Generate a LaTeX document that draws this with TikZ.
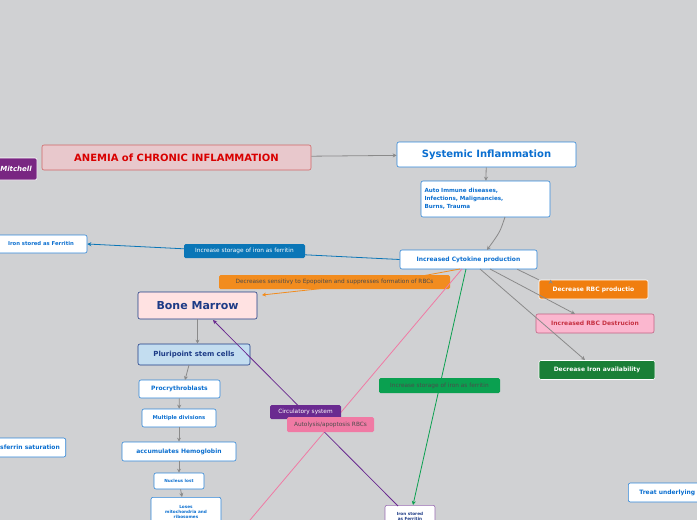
\documentclass[tikz,border=0pt]{standalone}
\usepackage{fontspec}
\setmainfont{DejaVu Sans}
\usetikzlibrary{arrows.meta}
\definecolor{bg}{HTML}{D0D1D3}
\definecolor{tblue}{HTML}{0B6FD0}
\definecolor{bblue}{HTML}{2F86D8}
\definecolor{gline}{HTML}{8A8A8A}
\definecolor{labblue}{HTML}{0A76B7}
\definecolor{orng}{HTML}{F28C1E}
\definecolor{orng2}{HTML}{F07E0F}
\definecolor{pk}{HTML}{F07AA4}
\definecolor{pkfill}{HTML}{FBB7CF}
\definecolor{grn}{HTML}{0AA050}
\definecolor{dgrn}{HTML}{1A7F37}
\definecolor{purp}{HTML}{6A2A90}
\definecolor{navy}{HTML}{1D3B86}
\definecolor{lblue}{HTML}{C3DDF0}
\definecolor{tfill}{HTML}{E8C8CC}
\tikzset{
  box/.style={draw=bblue,fill=white,rounded corners=2pt,text=tblue,font=\bfseries\fontsize{6}{7}\selectfont,inner sep=0pt,line width=0.6pt},
  lab/.style={rounded corners=1.5pt,inner sep=0pt,font=\fontsize{5.8}{6.5}\selectfont},
  con/.style={draw=gline,line width=0.8pt,-{Stealth[length=4pt,width=4pt]}},
}
\begin{document}
\begin{tikzpicture}[x=1pt,y=-1pt]
\fill[bg] (0,0) rectangle (697,520);
\clip (0,0) rectangle (697,520);
\useasboundingbox (0,0) rectangle (697,520);
% nodes
\node[box,draw=white,fill=purp!90!red,text=white,font=\bfseries\itshape\fontsize{7}{8}\selectfont,minimum width=42pt,minimum height=22pt,anchor=center] (mit) at (16,169) {Mitchell};
\node[box,draw=red!70!black!60,fill=tfill,text=red!85!black,font=\bfseries\fontsize{10}{12}\selectfont,minimum width=269pt,minimum height=25pt] (title) at (176.5,157.5) {ANEMIA of CHRONIC INFLAMMATION};
\node[box,font=\bfseries\fontsize{10}{12}\selectfont,minimum width=179pt,minimum height=25pt] (sys) at (486.5,154.5) {Systemic Inflammation};
\node[box,minimum width=129pt,minimum height=36pt,align=left,text width=122pt,font=\bfseries\fontsize{5.6}{8}\selectfont] (auto) at (485.5,199) {Auto Immune diseases,\\Infections, Malignancies,\\Burns, Trauma};
\node[box,minimum width=137pt,minimum height=19pt] (cyt) at (468.5,259.5) {Increased Cytokine production};
\node[box,draw=white,fill=orng2,text=white,minimum width=109pt,minimum height=19pt] (drp) at (593.5,289.5) {Decrease RBC productio};
\node[box,draw=pk!80!black,fill=pkfill,text=pk!50!red!80!black,minimum width=118pt,minimum height=19pt] (ird) at (595,323.5) {Increased RBC Destrucion};
\node[box,draw=white,fill=dgrn,text=white,minimum width=116pt,minimum height=19pt] (dia) at (597,370) {Decrease Iron availability};
\node[box,minimum width=92pt,minimum height=18pt,font=\bfseries\fontsize{5.3}{6}\selectfont] (isf) at (41,244) {Iron stored as Ferritin};
\node[box,draw=navy,fill=pink!45!white,text=navy,font=\bfseries\fontsize{11}{13}\selectfont,minimum width=119pt,minimum height=27pt] (bm) at (197.5,305.5) {Bone Marrow};
\node[box,draw=navy,fill=lblue,text=navy,font=\bfseries\fontsize{7}{8}\selectfont,minimum width=112pt,minimum height=21pt] (plu) at (194,354.5) {Pluripoint stem cells};
\node[box,minimum width=81pt,minimum height=18pt] (pro) at (179.5,389) {Procrythroblasts};
\node[box,minimum width=74pt,minimum height=18pt,font=\bfseries\fontsize{5.3}{6}\selectfont] (mul) at (179,418) {Multiple divisions};
\node[box,minimum width=114pt,minimum height=19pt] (acc) at (179,451.5) {accumulates Hemoglobin};
\node[box,minimum width=50pt,minimum height=16pt,font=\bfseries\fontsize{4.2}{5}\selectfont] (nuc) at (179,481) {Nucleus lost};
\node[box,minimum width=70pt,minimum height=30pt,font=\bfseries\fontsize{4.2}{5}\selectfont,align=center,anchor=north] (los) at (186,497) {Loses\\mitochondria and\\ribosomes};
\node[box,minimum width=90pt,minimum height=19pt,anchor=east] (trs) at (66,447.5) {\hspace*{4pt}Transferrin saturation};
\node[box,draw=purp!70,minimum width=50pt,minimum height=22pt,font=\bfseries\fontsize{4.2}{5}\selectfont,text=navy,align=center,anchor=north] (isf2) at (410,505) {Iron stored\\as Ferritin};
\node[box,minimum width=78pt,minimum height=19pt,anchor=west] (tu) at (628,492.5) {Treat underlying};
% connectors
\draw[con] (title) -- (sys);
\draw[con] (sys) -- (auto);
\draw[con] (505,217) .. controls (500,232) .. (487,250);
\draw[con] (cyt.south east)++(-20,0) -- (drp.north west)++(12,0);
\draw[con] (490,269) -- (575,314);
\draw[con] (480,269) -- (585,360);
\draw[labblue,line width=0.8pt,-{Stealth[length=4pt,width=4pt]}] (cyt.west) -- (isf.east);
\node[lab,fill=labblue,text=white,minimum width=121pt,minimum height=14pt] (l1) at (244.5,251) {Increase storage of iron as ferritin};
\draw[orng,line width=0.8pt,-{Stealth[length=4pt,width=4pt]}] (460,269) -- (400,280) -- (262,295);
\node[lab,fill=orng,text=black!70,minimum width=231pt,minimum height=14pt] (l2) at (334.5,282) {Decreases sensitivy to Epopoiten and suppresses formation of RBCs};
\draw[pk,line width=0.8pt] (462,269) -- (250,520);
\draw[grn,line width=0.8pt,-{Stealth[length=4pt,width=4pt]}] (466,269) -- (413,505);
\node[lab,fill=grn,text=black!70,minimum width=121pt,minimum height=15pt] (l3) at (439.5,385.5) {Increase storage of iron as ferritin};
\draw[purp,line width=0.8pt,-{Stealth[length=4pt,width=4pt]}] (398,506) -- (213,320);
\node[lab,fill=purp,text=white,minimum width=71pt,minimum height=14pt] (l4) at (305.5,412) {Circulatory system};
\node[lab,fill=pk,text=black!70,minimum width=87pt,minimum height=15pt] (l5) at (330.5,424.5) {Autolysis/apoptosis RBCs};
\draw[con] (bm.south) -- (plu.north -| bm.south);
\draw[con] (189,365) -- (185,380);
\draw[con] (pro) -- (mul);
\draw[con] (mul) -- (acc);
\draw[con] (acc) -- (nuc);
\draw[con] (nuc) -- (182,497);
\end{tikzpicture}
\end{document}
